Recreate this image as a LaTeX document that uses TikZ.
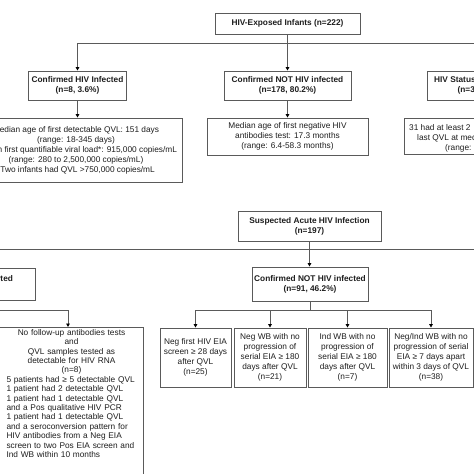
\documentclass[tikz,border=0pt]{standalone}
\usepackage{fontspec}
\setmainfont{Liberation Sans}
\usetikzlibrary{arrows.meta}

\definecolor{linegray}{HTML}{5A5A5A}
\definecolor{inkgray}{HTML}{1E1E1E}

\newcommand{\boxfont}{\fontsize{8.3}{10}\selectfont}
\newcommand{\midline}[1]{\makebox[130pt][c]{#1}}

\tikzset{
    flowbox/.style={draw=linegray, line width=0.9pt, fill=white, text=inkgray, align=center, inner sep=0pt, font=\boxfont},
    headbox/.style={flowbox, font=\boxfont\bfseries},
    conn/.style={draw=linegray, line width=0.9pt},
    arr/.style={conn, -{Triangle[length=3.5pt, width=3.6pt, color=black]}},
}

\begin{document}
\begin{tikzpicture}[x=1pt, y=-1pt]

    \useasboundingbox (0,0) rectangle (474,474);
    \fill[white] (0,0) rectangle (474,474);
    \clip (0,0) rectangle (474,474);

    \node[headbox, minimum width=145pt, minimum height=21pt] (root) at (287.5,23.5) {HIV-Exposed Infants (n=222)};

    \node[headbox, minimum width=98pt, minimum height=29pt] (inf) at (77.5,85.5) {Confirmed HIV Infected\\(n=8, 3.6\%)};

    \node[headbox, minimum width=127pt, minimum height=29pt] (notinf) at (287.5,85.5) {Confirmed NOT HIV infected\\(n=178, 80.2\%)};

    \node[headbox, minimum width=114pt, minimum height=29pt] (undet) at (484,85.5) {HIV Status Undetermined\\(n=36, 16.2\%)};

    \node[flowbox, minimum width=212pt, minimum height=64pt] (infnote) at (76,150) {Median age of first detectable QVL: 151 days\\(range: 18-345 days)\\Median first quantifiable viral load*: 915,000 copies/mL\\(range: 280 to 2,500,000 copies/mL)\\*Two infants had QVL >750,000 copies/mL};

    \node[flowbox, minimum width=161pt, minimum height=37pt] (notinfnote) at (287.5,136.5) {Median age of first negative HIV\\antibodies test: 17.3 months\\(range: 6.4-58.3 months)};

    \node[flowbox, minimum width=160pt, minimum height=36pt] (undetnote) at (484,136) {};
    \node[text=inkgray, font=\boxfont, align=left, anchor=north west, inner sep=0pt] (undettext) at (409,124) {31 had at least 2\\\hspace*{8pt}last QVL at median\\\hspace*{36pt}(range:};

    \coordinate (bus1) at (0,43);
    \draw[conn] (root) -- (root |- bus1);
    \draw[conn] (inf |- bus1) -- (undet |- bus1);
    \draw[arr] (inf |- bus1) -- (inf);
    \draw[arr] (notinf |- bus1) -- (notinf);
    \draw[arr] (undet |- bus1) -- (undet);

    \draw[arr] (inf) -- (inf |- infnote.north);
    \draw[arr] (notinf) -- (notinf |- notinfnote.north);
    \draw[arr] (undet) -- (undet |- undetnote.north);

    \node[headbox, minimum width=143pt, minimum height=30pt] (susp) at (309.5,226) {Suspected Acute HIV Infection\\(n=197)};

    \node[headbox, minimum width=164pt, minimum height=32pt] (acute) at (-47,284) {Acute HIV Infection Supported\\(n=8, 4.1\%)};

    \node[headbox, minimum width=116pt, minimum height=34pt] (notacute) at (310,284) {Confirmed NOT HIV infected\\(n=91, 46.2\%)};

    \node[text=inkgray, font=\fontsize{8.3}{9.4}\selectfont, text width=130pt, align=left, anchor=north, inner xsep=6.5pt, inner ysep=2pt] (acutenote) at (71.5,327) {\midline{No follow-up antibodies tests}\\\midline{and}\\\midline{QVL samples tested as}\\\midline{detectable for HIV RNA}\\\midline{(n=8)}\\5 patients had ≥ 5 detectable QVL\\1 patient had 2 detectable QVL\\1 patient had 1 detectable QVL\\and a Pos qualitative HIV PCR\\1 patient had 1 detectable QVL\\and a seroconversion pattern for\\HIV antibodies from a Neg EIA\\screen to two Pos EIA screen and\\Ind WB within 10 months};
    \coordinate (lowedge) at (0,480);
    \draw[conn] (acutenote.north west) rectangle (acutenote.east |- lowedge);

    \node[flowbox, minimum width=71pt, minimum height=59pt] (negeia) at (195.5,357.5) {Neg first HIV EIA\\screen ≥ 28 days\\after QVL\\(n=25)};

    \node[flowbox, minimum width=72pt, minimum height=59pt] (negwb) at (270,357.5) {Neg WB with no\\progression of\\serial EIA ≥ 180\\days after QVL\\(n=21)};

    \node[flowbox, minimum width=79pt, minimum height=59pt] (indwb) at (347.5,357.5) {Ind WB with no\\progression of\\serial EIA ≥ 180\\days after QVL\\(n=7)};

    \node[flowbox, minimum width=84pt, minimum height=59pt] (negindwb) at (431,357.5) {Neg/Ind WB with no\\progression of serial\\EIA ≥ 7 days apart\\within 3 days of QVL\\(n=38)};

    \coordinate (bus2) at (0,249);
    \coordinate (busend) at (480,249);
    \draw[conn] (acute |- bus2) -- (busend);
    \draw[arr] (acute |- bus2) -- (acute);
    \draw[arr] (susp) -- (susp |- notacute.north);

    \coordinate (bend) at (68,310);
    \draw[arr] (acute) |- (bend) -- (bend |- acutenote.north);

    \coordinate (bus3) at (0,310);
    \draw[conn] (notacute) -- (notacute |- bus3);
    \draw[conn] (negeia |- bus3) -- (negindwb |- bus3);
    \draw[arr] (negeia |- bus3) -- (negeia);
    \draw[arr] (negwb |- bus3) -- (negwb);
    \draw[arr] (indwb |- bus3) -- (indwb);
    \draw[arr] (negindwb |- bus3) -- (negindwb);

\end{tikzpicture}
\end{document}
